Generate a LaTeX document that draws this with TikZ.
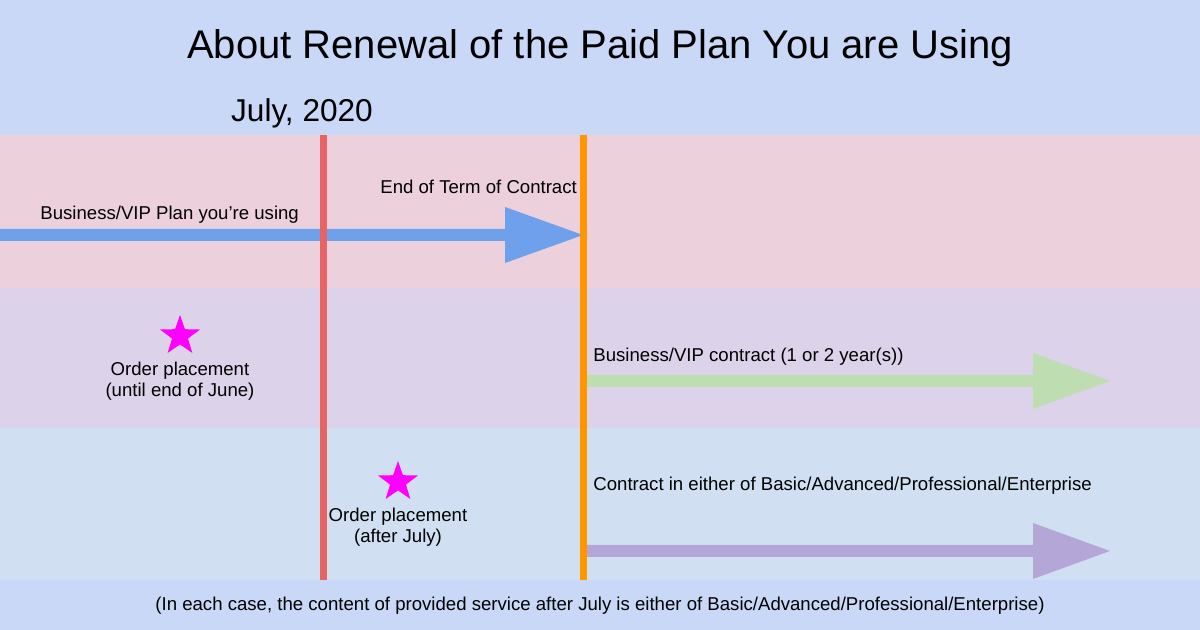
\documentclass[tikz,border=0pt]{standalone}
\usepackage{fontspec}
\setmainfont{Liberation Sans}
\usetikzlibrary{shapes.geometric}
\definecolor{bgblue}{RGB}{200,216,246}
\definecolor{bandpink}{RGB}{236,208,220}
\definecolor{bandpurple}{RGB}{220,210,234}
\definecolor{bandblue}{RGB}{208,224,242}
\definecolor{redline}{RGB}{230,100,100}
\definecolor{orangeline}{RGB}{255,150,0}
\definecolor{arrblue}{RGB}{110,160,235}
\definecolor{arrgreen}{RGB}{190,221,176}
\definecolor{arrpurple}{RGB}{181,166,216}
\definecolor{starmag}{RGB}{255,0,255}
\tikzset{
  lbl/.style={font=\fontsize{9.3}{10.5}\selectfont, inner sep=0pt},
  lblc/.style={lbl, align=center},
  mystar/.style={star, star points=5, star point ratio=2.5, fill=starmag, draw=none, minimum size=21pt, inner sep=0pt},
  vline/.style={line width=3.5pt}
}
\begin{document}
\begin{tikzpicture}[x=0.5pt,y=-0.5pt]
\useasboundingbox (0,0) rectangle (1200,630);
\fill[bgblue] (0,0) rectangle (1200,630);
\fill[bandpink] (0,135) rectangle (1200,288);
\fill[bandpurple] (0,288) rectangle (1200,428);
\fill[bandblue] (0,428) rectangle (1200,580);
\node[font=\fontsize{20}{24}\selectfont] (title) at (600,48) {About Renewal of the Paid Plan You are Using};
\node[font=\fontsize{15.8}{18}\selectfont] (july) at (302,113) {July, 2020};
% arrows
\fill[arrblue] (0,229) -- (505,229) -- (505,207) -- (583,235) -- (505,263) -- (505,241) -- (0,241) -- cycle;
\fill[arrgreen] (583,375) -- (1033,375) -- (1033,353) -- (1110,381) -- (1033,409) -- (1033,387) -- (583,387) -- cycle;
\fill[arrpurple] (583,545) -- (1033,545) -- (1033,523) -- (1110,551) -- (1033,579) -- (1033,557) -- (583,557) -- cycle;
\coordinate (rt) at (323,135); \coordinate (rb) at (323,580);
\coordinate (ot) at (583,135); \coordinate (ob) at (583,580);
\draw[vline, redline] (rt) -- (rb);
\draw[vline, orangeline] (ot) -- (ob);
\node[lbl, anchor=west] (l1) at (40,215) {Business/VIP Plan you’re using};
\node[lbl, anchor=west] (l2) at (380,187) {End of Term of Contract};
\node[mystar] (s1) at (180,336) {};
\node[mystar] (s2) at (398,482) {};
\node[lblc] (o1) at (180,381) {Order placement\\(until end of June)};
\node[lblc] (o2) at (398,527) {Order placement\\(after July)};
\node[lbl, anchor=west] (l3) at (593,357) {Business/VIP contract (1 or 2 year(s))};
\node[lbl, anchor=west] (l4) at (593,486) {Contract in either of Basic/Advanced/Professional/Enterprise};
\node[lbl] (foot) at (600,606) {(In each case, the content of provided service after July is either of Basic/Advanced/Professional/Enterprise)};
\end{tikzpicture}
\end{document}
